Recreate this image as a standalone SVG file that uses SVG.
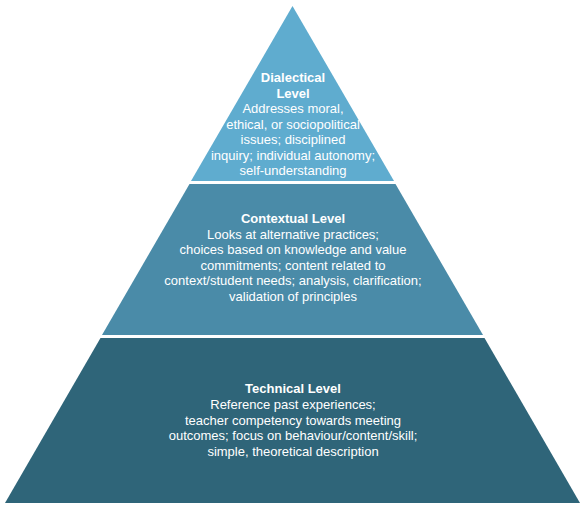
<svg xmlns="http://www.w3.org/2000/svg" width="586" height="507" viewBox="0 0 586 507">
<style>
text{font-family:"Liberation Sans",Arial,sans-serif;font-size:13px;fill:#ffffff;text-anchor:middle}
.b{font-weight:bold}
</style>
<rect width="586" height="507" fill="#ffffff"/>
<g id="dialectical">
<polygon points="292.5,6 394,181 191,181" fill="#5FACCF"/>
<text x="293" y="82" class="b">Dialectical</text>
<text x="293" y="97.5" class="b">Level</text>
<text x="293" y="113">Addresses moral,</text>
<text x="293" y="128.5">ethical, or sociopolitical</text>
<text x="293" y="144">issues; disciplined</text>
<text x="293" y="159.5">inquiry; individual autonomy;</text>
<text x="293" y="175">self-understanding</text>
</g>
<g id="contextual">
<polygon points="189.5,184 395.5,184 483,335 102,335" fill="#4A8BA8"/>
<text x="293" y="223.3" class="b">Contextual Level</text>
<text x="293" y="238.8">Looks at alternative practices;</text>
<text x="293" y="254.3">choices based on knowledge and value</text>
<text x="293" y="269.8">commitments; content related to</text>
<text x="293" y="285.3">context/student needs; analysis, clarification;</text>
<text x="293" y="300.8">validation of principles</text>
</g>
<g id="technical">
<polygon points="100.5,338 484.5,338 580,503 5,503" fill="#2F6579"/>
<text x="293" y="393.3" class="b">Technical Level</text>
<text x="293" y="408.9">Reference past experiences;</text>
<text x="293" y="424.5">teacher competency towards meeting</text>
<text x="293" y="440.1">outcomes; focus on behaviour/content/skill;</text>
<text x="293" y="455.7">simple, theoretical description</text>
</g>
<g id="connectors"/>
</svg>
